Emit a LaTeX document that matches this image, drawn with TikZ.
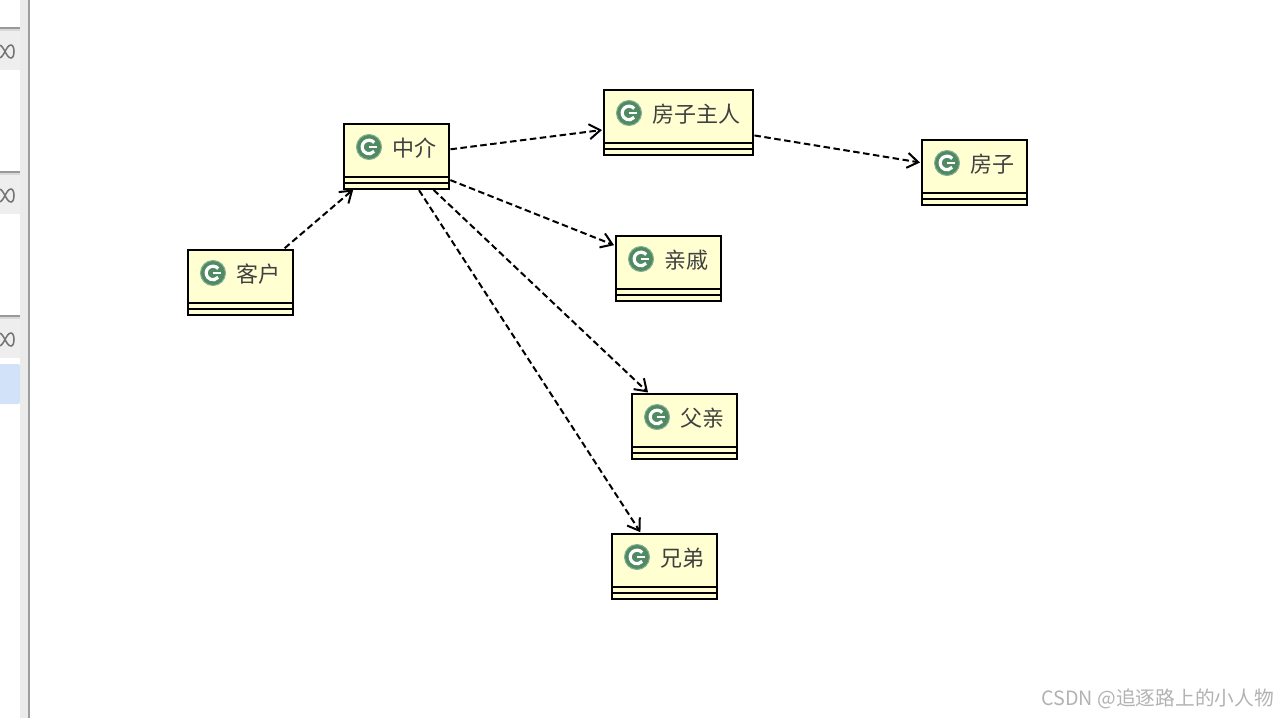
\documentclass[tikz,border=0pt]{standalone}
\usepackage{fontspec}
\newfontfamily\cjk{Noto Sans CJK SC}
\usetikzlibrary{arrows.meta,calc,positioning}
\definecolor{classfill}{HTML}{FFFFD2}
\definecolor{icongreen}{HTML}{4F8A63}
\definecolor{labelgray}{HTML}{404040}
\definecolor{tabfill}{HTML}{EEEEEE}
\definecolor{tabblue}{HTML}{D2E2F8}
\tikzset{
  classbox/.style={draw=black,line width=2pt,fill=classfill,anchor=north west,minimum height=65pt,outer sep=0pt,inner sep=0pt},
  classicon/.style={circle,fill=icongreen,draw=icongreen!70,line width=1pt,minimum size=25pt,inner sep=0pt},
  classlabel/.style={font=\cjk\fontsize{22}{22}\selectfont,text=labelgray,inner sep=0pt,anchor=west},
  dep/.style={line width=2pt,dash pattern=on 6.5pt off 3.5pt,-{Straight Barb[length=11pt,width=15pt,line width=2pt]}}
}
\begin{document}
\begin{tikzpicture}[x=1pt,y=-1pt]
\useasboundingbox (0,0) rectangle (1288,718);
% left panel
\fill[black!8] (20,0) rectangle (28,718);
\fill[black!38] (28,0) rectangle (30,718);
\foreach \y in {27,171,315} {
\fill[black!40] (0,\y) rectangle (20,\y+2);
\fill[black!15] (0,\y+2) rectangle (20,\y+4);
\fill[tabfill] (0,\y+4) rectangle (20,\y+43);
\draw[black!55,line width=1.5pt] (-1,\y+18) .. controls (4,\y+18) and (6,\y+31) .. (11,\y+31) .. controls (15,\y+31) and (15,\y+18) .. (11,\y+18) .. controls (6,\y+18) and (4,\y+31) .. (-1,\y+31);
}
\fill[tabblue,rounded corners=2pt] (-4,364) rectangle (20,404);

% classes
\foreach \name/\x/\y/\w/\txt in {kehu/187.5/249.5/105/客户,zhongjie/343.5/123.5/105/中介,fangzhu/603.5/89.5/149/房子主人,fangzi/921.5/139.5/105/房子,qinqi/615.5/235.5/105/亲戚,fuqin/631.5/393.5/105/父亲,xiongdi/611.5/533.5/105/兄弟} {
\node[classbox,minimum width=\w pt] (\name) at (\x,\y) {};
\node[classicon] (\name c) at ($(\name.north west)+(25.5,23.5)$) {};
\draw[white,line width=3.2pt] ($(\name c)+(5.2,-4.4)$) arc[start angle=-40,end angle=-320,radius=6.8];
\draw[white,line width=2.6pt] (\name c.center) -- ++(8,0);
\node[classlabel] (\name t) at ($(\name.north west)+(49,24.5)$) {\txt};
\draw[line width=2pt] ($(\name.south west)+(1,-12)$) -- ($(\name.south east)+(-1,-12)$);
\draw[line width=2pt] ($(\name.south west)+(1,-6)$) -- ($(\name.south east)+(-1,-6)$);
}

% dependencies
\foreach \a/\aang/\b/\bang in {kehu/37.5/zhongjie/218,zhongjie/7.5/fangzhu/186,fangzhu/350/fangzi/170,zhongjie/336.5/qinqi/157,zhongjie/318.3/fuqin/137.4,zhongjie/304.9/xiongdi/125} {
\draw[dep,shorten <=2pt,shorten >=1.5pt] (\a.\aang) -- (\b.\bang);
}

\node[font=\cjk\fontsize{19.7}{20}\selectfont,text=black!30,anchor=east,inner sep=0pt] (mark) at (1274,699) {CSDN @追逐路上的小人物};
\end{tikzpicture}
\end{document}
